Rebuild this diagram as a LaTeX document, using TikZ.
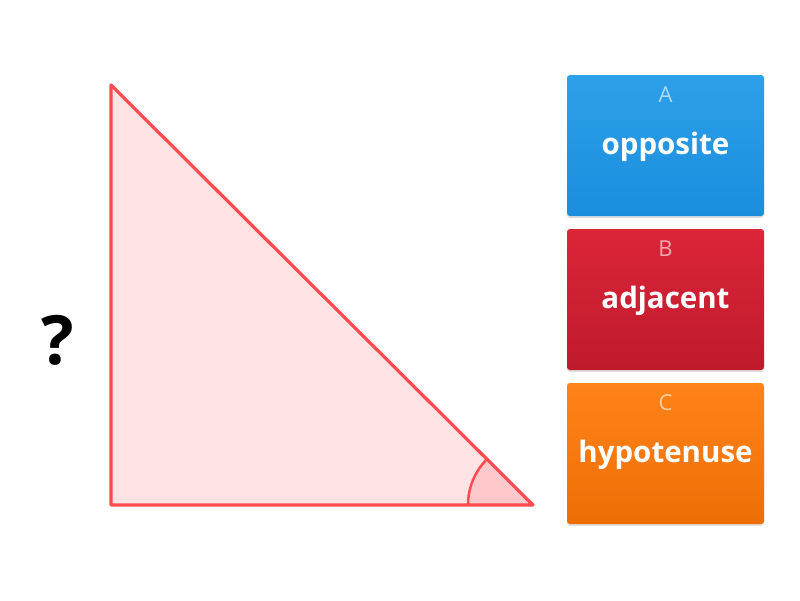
\documentclass[tikz,border=0pt]{standalone}
\usepackage{fontspec}
\setmainfont{Open Sans}
\usetikzlibrary{calc,shadows}

\definecolor{edgered}{HTML}{FF4A4F}
\definecolor{fillpink}{HTML}{FFE3E4}
\definecolor{anglepink}{HTML}{FFC9CC}
\definecolor{blueTop}{HTML}{2EA0EA}
\definecolor{blueBot}{HTML}{1A8DDD}
\definecolor{redTop}{HTML}{DC2539}
\definecolor{redBot}{HTML}{BE1A2C}
\definecolor{orangeTop}{HTML}{FF8318}
\definecolor{orangeBot}{HTML}{EE6E06}

\tikzset{
  answer/.style={rounded corners=3pt, minimum width=197pt, minimum height=141pt,
    drop shadow={shadow xshift=0pt, shadow yshift=-2pt, opacity=0.25}},
  letter/.style={text=white, text opacity=0.6, font=\fontsize{22}{22}\selectfont},
  word/.style={text=white, font=\bfseries\fontsize{29.5}{29.5}\selectfont}
}

\begin{document}
\begin{tikzpicture}[x=1pt,y=-1pt]
  \useasboundingbox (0,0) rectangle (800,600);
  % triangle
  \coordinate (top) at (111,85);
  \coordinate (corner) at (111,505);
  \coordinate (tip) at (533,505);
  \fill[fillpink] (top) -- (corner) -- (tip) -- cycle;
  \fill[anglepink] (tip) -- ++(-65,0) arc[start angle=180, end angle=224.9, radius=65] -- cycle;
  \draw[edgered, line width=2.5pt] ($(tip)+(-65,0)$) arc[start angle=180, end angle=224.9, radius=65];
  \draw[edgered, line width=3.2pt, line join=round] (top) -- (corner) -- (tip) -- cycle;
  \node[font=\bfseries\fontsize{68}{68}\selectfont] (ask) at (58,340) {?};

  % answer boxes
  \foreach \n/\l/\w/\c [count=\i from 0] in {a/A/opposite/blue, b/B/adjacent/red, c/C/hypotenuse/orange} {
      \node[answer, top color=\c Top, bottom color=\c Bot] (box\n) at (665.5,{145.5+154*\i}) {};
      \node[letter] (let\n) at ($(box\n.north)+(0,20)$) {\l};
      \node[word] (word\n) at ($(box\n.center)+(0,1)$) {\w};
    }
\end{tikzpicture}
\end{document}
